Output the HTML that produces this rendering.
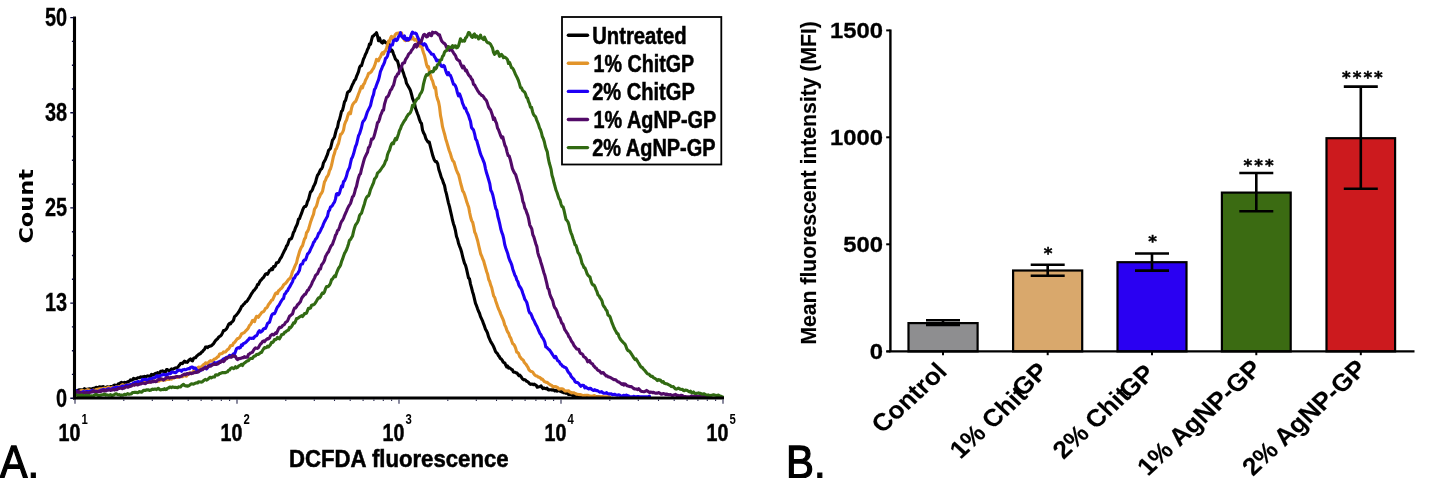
<!DOCTYPE html>
<html lang="en"><head><meta charset="utf-8"><title>DCFDA fluorescence / Mean fluorescent intensity</title>
<style>
html,body{margin:0;padding:0;background:#fff;}
body{width:1436px;height:478px;overflow:hidden;}
svg{display:block;filter:blur(0.45px);}
text{font-family:"Liberation Sans",sans-serif;font-weight:bold;fill:#000;}
.nar{font-size:24px;stroke:#000;stroke-width:0.55px;}
.tk{font-size:25.2px;stroke-width:0.3px;}
.b{font-size:23.5px;stroke:#000;stroke-width:0.3px;}
.wide{font-family:"DejaVu Sans","Liberation Sans",sans-serif;}
.lab{font-weight:normal;font-size:45.5px;stroke:#000;stroke-width:1.3px;}
</style></head><body>
<svg width="1436" height="478" viewBox="0 0 1436 478">
<rect width="1436" height="478" fill="#ffffff"/>
<g id="panelA">
<g fill="none" stroke-width="3.1" stroke-linejoin="round" stroke-linecap="round">
<polyline stroke="#000000" points="75.5,390.7 76.5,391.2 77.5,390.9 78.5,390.0 79.5,389.7 80.5,389.7 81.5,390.0 82.5,389.8 83.5,389.7 84.5,388.7 85.5,389.9 86.5,389.4 87.5,389.4 88.5,388.9 89.5,388.7 90.5,389.0 91.5,389.1 92.5,388.5 93.5,388.4 94.5,388.5 95.5,387.7 96.5,387.3 97.5,388.0 98.5,387.5 99.5,386.7 100.5,387.1 101.5,387.2 102.5,386.8 103.5,386.6 104.5,387.4 105.5,387.7 106.5,387.1 107.5,386.7 108.5,387.1 109.5,387.1 110.5,386.5 111.5,386.6 112.5,386.6 113.5,385.7 114.5,385.1 115.5,385.3 116.5,385.2 117.5,385.1 118.5,383.7 119.5,383.4 120.5,382.9 121.5,382.3 122.5,383.0 123.5,383.0 124.5,382.3 125.5,382.9 126.5,382.5 127.5,381.9 128.5,381.5 129.5,381.1 130.5,379.8 131.5,380.3 132.5,379.9 133.5,378.4 134.5,378.9 135.5,378.7 136.5,378.7 137.5,377.9 138.5,377.8 139.5,377.7 140.5,376.9 141.5,377.3 142.5,376.9 143.5,376.9 144.5,376.3 145.5,376.9 146.5,376.5 147.5,375.9 148.5,376.1 149.5,376.4 150.5,376.2 151.5,374.3 152.5,375.1 153.5,374.8 154.5,374.0 155.5,373.4 156.5,374.0 157.5,372.7 158.5,373.2 159.5,373.2 160.5,371.4 161.5,371.3 162.5,370.8 163.5,371.4 164.5,372.2 165.5,371.8 166.5,369.5 167.5,369.6 168.5,370.4 169.5,370.8 170.5,369.8 171.5,368.9 172.5,369.2 173.5,368.9 174.5,368.4 175.5,367.9 176.5,368.1 177.5,367.4 178.5,366.3 179.5,365.1 180.5,363.6 181.5,363.3 182.5,363.6 183.5,362.2 184.5,361.1 185.5,362.2 186.5,361.9 187.5,362.3 188.5,360.7 189.5,359.7 190.5,359.0 191.5,360.5 192.5,360.9 193.5,358.4 194.5,357.7 195.5,357.8 196.5,356.3 197.5,355.5 198.5,354.5 199.5,354.0 200.5,353.5 201.5,352.2 202.5,351.6 203.5,350.2 204.5,349.4 205.5,347.1 206.5,346.9 207.5,347.6 208.5,346.5 209.5,346.4 210.5,346.0 211.5,345.7 212.5,344.7 213.5,343.8 214.5,342.1 215.5,340.7 216.5,339.7 217.5,338.8 218.5,337.3 219.5,336.6 220.5,335.9 221.5,334.9 222.5,332.9 223.5,330.6 224.5,330.4 225.5,329.7 226.5,328.9 227.5,327.0 228.5,324.6 229.5,323.4 230.5,323.9 231.5,322.2 232.5,321.5 233.5,320.2 234.5,316.7 235.5,315.9 236.5,314.9 237.5,313.6 238.5,312.3 239.5,310.6 240.5,308.9 241.5,306.5 242.5,305.8 243.5,304.4 244.5,303.6 245.5,302.1 246.5,301.6 247.5,300.5 248.5,298.8 249.5,297.3 250.5,295.6 251.5,293.7 252.5,292.4 253.5,290.8 254.5,290.0 255.5,288.5 256.5,287.2 257.5,284.6 258.5,284.5 259.5,282.1 260.5,280.5 261.5,279.6 262.5,278.3 263.5,277.6 264.5,275.8 265.5,274.1 266.5,273.6 267.5,274.4 268.5,272.5 269.5,270.4 270.5,270.1 271.5,268.6 272.5,269.7 273.5,266.6 274.5,266.7 275.5,265.6 276.5,262.8 277.5,262.7 278.5,262.1 279.5,260.1 280.5,258.3 281.5,257.0 282.5,254.6 283.5,252.6 284.5,250.5 285.5,248.9 286.5,245.9 287.5,245.0 288.5,242.0 289.5,239.4 290.5,239.0 291.5,238.5 292.5,235.7 293.5,232.3 294.5,230.8 295.5,227.8 296.5,225.8 297.5,223.3 298.5,219.2 299.5,218.7 300.5,215.8 301.5,213.4 302.5,210.4 303.5,208.0 304.5,206.6 305.5,206.5 306.5,205.1 307.5,201.4 308.5,199.6 309.5,195.7 310.5,191.8 311.5,191.3 312.5,189.5 313.5,186.5 314.5,184.7 315.5,182.5 316.5,178.4 317.5,175.3 318.5,174.1 319.5,171.9 320.5,169.7 321.5,168.9 322.5,167.1 323.5,162.7 324.5,161.1 325.5,159.2 326.5,156.7 327.5,154.3 328.5,150.6 329.5,149.4 330.5,148.4 331.5,144.4 332.5,140.2 333.5,138.8 334.5,137.0 335.5,133.0 336.5,129.2 337.5,127.5 338.5,121.9 339.5,119.6 340.5,115.7 341.5,111.3 342.5,110.4 343.5,106.4 344.5,101.8 345.5,100.6 346.5,96.9 347.5,92.7 348.5,91.7 349.5,91.1 350.5,89.5 351.5,86.8 352.5,84.5 353.5,82.7 354.5,80.3 355.5,79.4 356.5,76.4 357.5,74.1 358.5,71.7 359.5,67.5 360.5,65.7 361.5,65.8 362.5,62.4 363.5,59.0 364.5,57.1 365.5,54.2 366.5,52.5 367.5,49.6 368.5,47.8 369.5,44.0 370.5,44.3 371.5,40.1 372.5,36.4 373.5,35.9 374.5,34.8 375.5,34.1 376.5,32.7 377.5,35.9 378.5,40.8 379.5,38.0 380.5,40.8 381.5,42.3 382.5,43.1 383.5,40.8 384.5,41.2 385.5,42.8 386.5,42.7 387.5,43.9 388.5,42.4 389.5,45.8 390.5,51.2 391.5,49.8 392.5,51.0 393.5,54.1 394.5,56.4 395.5,59.2 396.5,60.2 397.5,61.0 398.5,64.6 399.5,69.5 400.5,69.3 401.5,66.6 402.5,70.7 403.5,73.1 404.5,76.7 405.5,78.9 406.5,83.3 407.5,85.0 408.5,86.9 409.5,88.5 410.5,90.7 411.5,94.2 412.5,98.3 413.5,100.7 414.5,103.3 415.5,108.3 416.5,110.9 417.5,113.7 418.5,116.3 419.5,119.7 420.5,122.2 421.5,123.5 422.5,130.0 423.6,132.9 424.7,134.7 425.8,138.4 427.0,140.5 428.1,142.2 429.3,142.1 430.5,147.0 431.7,151.6 432.9,156.1 434.1,159.5 435.3,161.6 436.5,161.6 437.7,163.7 438.9,169.7 440.1,173.3 441.3,177.4 442.5,179.9 443.5,183.2 444.5,185.4 445.5,190.6 446.5,194.1 447.5,198.8 448.5,203.1 449.5,206.7 450.5,211.2 451.5,215.3 452.5,220.2 453.5,223.9 454.5,226.8 455.5,230.9 456.5,236.5 457.5,239.0 458.5,243.2 459.5,246.1 460.5,248.5 461.5,251.7 462.5,256.0 463.5,259.8 464.5,263.2 465.5,265.1 466.5,268.9 467.5,273.4 468.5,277.8 469.5,278.8 470.5,284.1 471.5,287.6 472.5,291.7 473.5,294.8 474.5,299.1 475.5,303.4 476.5,305.7 477.5,308.6 478.5,311.2 479.5,313.2 480.5,316.6 481.5,318.7 482.5,320.8 483.5,323.7 484.5,326.2 485.5,329.2 486.5,330.9 487.5,333.0 488.5,336.6 489.5,338.9 490.5,341.2 491.5,342.9 492.5,344.5 493.5,346.4 494.5,348.8 495.5,351.6 496.5,352.8 497.5,353.6 498.4,355.7 499.3,356.5 500.2,358.4 501.1,358.9 502.1,360.0 503.0,361.8 503.9,362.7 504.8,362.9 505.8,365.3 506.7,366.9 507.6,366.0 508.6,368.1 509.5,367.9 510.5,368.5 511.4,369.4 512.3,369.7 513.3,371.9 514.2,372.3 515.2,372.2 516.1,372.9 517.1,373.1 518.0,374.5 519.0,375.7 519.9,375.2 520.9,376.4 521.8,377.8 522.7,379.1 523.7,379.9 524.6,379.6 525.6,380.1 526.5,381.3 527.5,381.6 528.4,382.3 529.4,383.6 530.4,384.4 531.3,384.1 532.3,384.1 533.3,384.6 534.3,384.0 535.2,384.9 536.2,385.3 537.2,387.2 538.2,386.9 539.1,386.7 540.1,386.5 541.1,385.9 542.1,387.7 543.0,388.6 544.0,387.9 545.0,388.6 546.0,388.8 547.0,388.2 547.9,389.5 548.9,390.0 549.9,389.7 550.9,389.8 551.9,390.1 552.9,389.5 553.9,390.3 554.8,390.9 555.8,390.3 556.8,391.2 557.8,390.8 558.8,390.3 559.8,391.2 560.7,391.3 561.7,391.9 562.7,391.8 563.7,392.8 564.7,392.6 565.6,393.1 566.6,393.1 567.6,393.6 568.6,394.5 569.6,394.4 570.5,394.3 571.5,394.4 572.5,395.5 573.5,395.7 574.5,395.5 575.5,395.7 576.5,395.4 577.5,395.4 578.5,395.7 579.5,396.2 580.5,396.3 581.5,396.1 582.5,396.6 583.5,396.8 584.5,396.7 585.5,396.8 586.5,396.6 587.5,396.6 588.5,396.8 589.5,396.8 590.5,396.8 591.5,396.5 592.5,396.8 593.5,396.7 594.5,396.7 595.5,396.5 596.5,396.8 597.5,396.8 598.5,396.8 599.5,396.8"/>
<polyline stroke="#e2942a" points="75.5,391.6 76.5,392.0 77.5,391.9 78.5,391.9 79.5,391.9 80.5,390.7 81.5,390.5 82.5,390.3 83.5,390.8 84.5,391.3 85.5,390.8 86.5,390.6 87.5,389.7 88.5,390.2 89.5,390.1 90.5,391.1 91.5,390.8 92.5,390.6 93.5,390.0 94.5,390.2 95.5,390.0 96.5,389.4 97.5,389.2 98.5,389.2 99.5,388.8 100.5,388.7 101.5,388.7 102.5,388.6 103.5,388.9 104.5,388.0 105.5,388.7 106.5,388.1 107.5,387.7 108.5,387.3 109.5,387.7 110.5,387.7 111.5,387.7 112.5,387.3 113.5,387.5 114.5,388.2 115.5,387.3 116.5,386.7 117.5,387.1 118.5,386.6 119.5,386.6 120.5,386.4 121.5,385.6 122.5,384.6 123.5,385.2 124.5,385.5 125.5,385.1 126.5,385.3 127.5,385.3 128.5,384.6 129.5,385.2 130.5,385.4 131.5,384.9 132.5,384.8 133.5,384.7 134.5,384.9 135.5,383.7 136.5,383.3 137.5,383.3 138.5,382.3 139.5,381.7 140.5,382.0 141.5,382.7 142.5,382.5 143.5,381.3 144.5,380.9 145.5,381.6 146.5,381.8 147.5,381.8 148.5,382.2 149.5,382.4 150.5,381.8 151.5,381.6 152.5,380.6 153.5,380.4 154.5,381.1 155.5,381.4 156.5,381.4 157.5,381.2 158.5,381.2 159.5,380.8 160.5,379.4 161.5,379.7 162.5,380.3 163.5,380.2 164.5,379.2 165.5,380.1 166.5,379.4 167.5,379.3 168.5,379.5 169.5,379.4 170.5,378.3 171.5,379.1 172.5,378.6 173.5,377.9 174.5,377.7 175.5,376.6 176.5,377.1 177.5,377.5 178.5,376.9 179.5,376.8 180.5,376.7 181.5,376.7 182.5,376.8 183.5,376.0 184.5,375.5 185.5,375.8 186.5,376.2 187.5,374.6 188.5,374.1 189.5,372.8 190.5,373.7 191.5,373.2 192.5,372.7 193.5,371.2 194.5,370.0 195.5,370.4 196.5,369.7 197.5,368.0 198.5,367.0 199.5,367.4 200.5,367.1 201.5,367.8 202.5,365.6 203.5,364.7 204.5,364.2 205.5,362.9 206.5,363.0 207.5,363.9 208.5,362.5 209.5,361.4 210.5,360.6 211.5,361.1 212.5,360.8 213.5,359.9 214.5,358.9 215.5,358.7 216.5,358.0 217.5,356.9 218.5,356.5 219.5,354.2 220.5,353.8 221.5,353.8 222.5,353.2 223.5,351.9 224.5,352.1 225.5,351.9 226.5,350.7 227.5,349.6 228.5,349.1 229.5,347.7 230.5,345.8 231.5,345.5 232.5,345.4 233.5,343.1 234.5,342.5 235.5,341.3 236.5,339.7 237.5,338.6 238.5,338.4 239.5,337.6 240.5,336.2 241.5,333.9 242.5,333.4 243.5,333.0 244.5,332.4 245.5,331.1 246.5,330.1 247.5,329.2 248.5,327.6 249.5,325.4 250.5,324.6 251.5,322.8 252.5,320.4 253.5,320.2 254.5,321.7 255.5,318.5 256.5,316.3 257.5,316.7 258.5,317.3 259.5,315.4 260.5,314.3 261.5,312.7 262.5,311.9 263.5,311.7 264.5,310.3 265.5,308.4 266.5,307.9 267.5,306.7 268.5,304.5 269.5,303.4 270.5,302.0 271.5,300.2 272.5,300.0 273.5,297.9 274.5,295.7 275.5,293.5 276.5,292.8 277.5,293.5 278.5,290.8 279.5,290.2 280.5,288.8 281.5,288.3 282.5,287.1 283.5,285.0 284.5,284.1 285.5,283.4 286.5,282.3 287.5,280.8 288.5,279.4 289.5,278.7 290.5,277.7 291.5,274.9 292.5,271.5 293.5,269.7 294.5,267.1 295.5,264.9 296.5,263.0 297.5,258.5 298.5,255.2 299.5,251.7 300.5,249.2 301.5,246.9 302.5,245.9 303.5,242.2 304.5,238.9 305.5,237.8 306.5,232.8 307.5,231.5 308.5,229.3 309.5,225.9 310.5,222.3 311.5,219.4 312.5,216.7 313.5,214.4 314.5,209.1 315.5,207.7 316.5,205.9 317.5,202.3 318.5,198.4 319.5,197.0 320.5,194.4 321.5,193.3 322.5,191.3 323.5,186.7 324.5,181.9 325.5,180.3 326.5,177.4 327.5,176.3 328.5,174.4 329.5,170.5 330.5,168.9 331.5,165.4 332.5,160.9 333.5,156.1 334.5,153.4 335.5,149.4 336.5,148.6 337.5,145.5 338.5,143.5 339.5,139.2 340.5,134.2 341.5,134.0 342.5,132.5 343.5,130.2 344.5,124.8 345.5,121.9 346.5,120.3 347.5,116.7 348.5,113.6 349.5,112.4 350.5,113.7 351.5,108.4 352.5,105.0 353.5,103.4 354.5,102.2 355.5,101.7 356.5,99.5 357.5,96.9 358.5,94.0 359.5,91.7 360.5,88.6 361.5,86.3 362.5,87.9 363.5,84.3 364.5,83.3 365.5,80.3 366.5,78.4 367.5,76.3 368.5,73.4 369.5,73.1 370.5,72.5 371.5,71.4 372.5,69.6 373.5,68.3 374.5,65.9 375.5,63.1 376.5,59.4 377.5,59.7 378.5,60.8 379.5,58.2 380.5,56.9 381.5,54.1 382.5,52.6 383.5,54.0 384.5,51.5 385.5,50.9 386.5,48.3 387.5,44.9 388.5,41.2 389.5,41.6 390.5,38.3 391.5,36.3 392.5,39.0 393.5,37.8 394.5,36.2 395.5,34.3 396.5,33.4 397.5,33.4 398.5,33.0 399.5,33.5 400.5,34.5 401.5,32.8 402.5,37.3 403.5,37.8 404.5,40.1 405.5,40.6 406.5,38.7 407.5,40.4 408.5,40.5 409.5,38.7 410.5,38.7 411.5,39.0 412.5,36.8 413.5,38.8 414.5,40.2 415.5,39.6 416.5,38.9 417.5,41.4 418.5,45.1 419.5,46.1 420.5,45.1 421.5,45.9 422.5,49.5 423.5,52.8 424.5,55.5 425.5,59.6 426.5,64.4 427.5,67.1 428.5,66.6 429.5,72.5 430.5,75.4 431.5,78.9 432.5,80.7 433.5,84.3 434.5,87.9 435.5,87.3 436.5,95.3 437.5,99.1 438.5,101.6 439.5,106.7 440.5,115.4 441.5,120.3 442.5,126.7 443.5,130.4 444.6,134.2 445.8,139.2 446.9,142.6 448.1,146.8 449.2,150.5 450.4,153.6 451.5,157.5 452.7,160.6 453.9,161.8 455.1,165.9 456.3,169.7 457.4,172.5 458.6,174.7 459.7,179.1 460.7,183.5 461.7,187.0 462.7,191.0 463.7,192.2 464.7,195.0 465.7,198.2 466.7,201.8 467.7,204.6 468.7,207.2 469.7,212.8 470.7,217.5 471.7,220.8 472.7,222.4 473.7,226.8 474.7,232.1 475.7,234.2 476.7,237.6 477.7,241.0 478.7,245.5 479.7,249.6 480.7,254.0 481.7,256.1 482.7,258.9 483.7,261.0 484.7,264.8 485.7,268.2 486.7,271.7 487.7,274.6 488.7,279.5 489.7,281.5 490.7,285.1 491.7,287.5 492.7,292.0 493.7,296.1 494.7,297.4 495.7,300.9 496.7,303.7 497.7,306.7 498.7,309.4 499.7,311.4 500.7,314.1 501.7,316.5 502.7,318.7 503.7,321.2 504.7,325.0 505.7,326.7 506.7,329.8 507.7,332.0 508.7,333.4 509.7,336.6 510.7,337.9 511.7,341.0 512.7,343.7 513.7,344.3 514.7,345.9 515.7,348.4 516.7,352.1 517.7,352.5 518.7,353.6 519.6,356.4 520.6,357.6 521.5,358.9 522.4,359.5 523.3,360.2 524.2,362.3 525.2,363.5 526.1,364.4 527.0,365.9 528.0,367.4 528.9,369.6 529.9,370.7 530.8,371.4 531.8,371.5 532.7,372.0 533.7,373.6 534.6,374.8 535.6,375.7 536.6,375.9 537.5,376.4 538.5,377.2 539.4,377.2 540.4,378.0 541.4,379.2 542.3,379.1 543.3,380.3 544.3,381.5 545.2,381.9 546.2,382.4 547.2,382.3 548.1,383.2 549.1,383.9 550.1,384.8 551.1,385.2 552.0,385.7 553.0,386.9 554.0,386.7 555.0,386.5 555.9,386.7 556.9,387.3 557.9,387.7 558.9,389.1 559.9,389.0 560.8,388.8 561.8,388.8 562.8,389.0 563.8,389.8 564.8,390.9 565.7,391.1 566.7,390.9 567.7,391.0 568.7,390.7 569.7,391.9 570.7,392.2 571.6,393.0 572.6,392.7 573.6,392.7 574.6,393.2 575.6,393.4 576.6,394.3 577.6,394.3 578.5,394.5 579.5,394.6 580.5,394.6 581.5,395.0 582.5,395.2 583.5,395.9 584.5,395.4 585.5,395.4 586.5,395.2 587.5,395.3 588.5,395.6 589.5,396.3 590.5,396.1 591.5,396.4 592.5,396.0 593.5,395.8 594.5,395.5 595.5,396.7 596.5,396.8 597.5,396.7 598.5,396.8 599.5,396.8 600.5,396.6 601.5,396.8 602.5,396.5 603.5,396.8 604.5,396.8 605.5,396.8 606.5,396.7 607.5,396.8 608.5,396.7 609.5,396.8"/>
<polyline stroke="#1f00f5" points="75.5,392.5 76.5,390.8 77.5,392.1 78.5,392.2 79.5,392.6 80.5,392.4 81.5,392.8 82.5,392.0 83.5,391.6 84.5,392.0 85.5,391.9 86.5,391.4 87.5,391.4 88.5,391.8 89.5,391.7 90.5,391.1 91.5,390.8 92.5,390.4 93.5,391.6 94.5,391.1 95.5,391.5 96.5,391.2 97.5,391.7 98.5,391.5 99.5,390.8 100.5,390.9 101.5,390.0 102.5,390.4 103.5,389.4 104.5,389.9 105.5,390.3 106.5,389.7 107.5,389.2 108.5,388.8 109.5,389.0 110.5,389.6 111.5,389.3 112.5,388.5 113.5,387.8 114.5,388.3 115.5,387.3 116.5,387.3 117.5,387.2 118.5,387.6 119.5,387.3 120.5,387.1 121.5,386.6 122.5,386.0 123.5,386.3 124.5,386.5 125.5,385.6 126.5,385.5 127.5,385.0 128.5,385.2 129.5,384.9 130.5,384.6 131.5,384.2 132.5,384.3 133.5,383.1 134.5,382.6 135.5,382.4 136.5,382.6 137.5,381.8 138.5,381.5 139.5,382.1 140.5,382.2 141.5,381.3 142.5,379.4 143.5,379.7 144.5,379.5 145.5,379.3 146.5,379.7 147.5,380.6 148.5,379.3 149.5,378.8 150.5,379.2 151.5,378.7 152.5,378.3 153.5,377.7 154.5,377.7 155.5,377.5 156.5,375.9 157.5,375.8 158.5,377.1 159.5,376.8 160.5,375.6 161.5,374.9 162.5,374.9 163.5,374.2 164.5,374.6 165.5,375.4 166.5,374.6 167.5,374.5 168.5,373.6 169.5,373.7 170.5,373.7 171.5,372.1 172.5,372.1 173.5,372.2 174.5,372.4 175.5,372.8 176.5,372.0 177.5,370.4 178.5,370.6 179.5,370.1 180.5,370.2 181.5,371.3 182.5,369.8 183.5,369.8 184.5,369.3 185.5,369.8 186.5,369.4 187.5,368.9 188.5,368.6 189.5,368.8 190.5,367.5 191.5,367.1 192.5,367.1 193.5,368.3 194.5,367.9 195.5,368.1 196.5,369.7 197.5,371.9 198.5,370.9 199.5,370.9 200.5,370.6 201.5,369.8 202.5,369.0 203.5,368.7 204.5,368.0 205.5,367.0 206.5,368.9 207.5,367.9 208.5,366.5 209.5,365.6 210.5,364.8 211.5,365.2 212.5,364.3 213.5,363.9 214.5,362.6 215.5,363.3 216.5,363.8 217.5,362.3 218.5,362.1 219.5,361.4 220.5,361.5 221.5,361.0 222.5,359.8 223.5,358.9 224.5,358.8 225.5,358.1 226.5,357.3 227.5,357.3 228.5,356.7 229.5,355.4 230.5,355.5 231.5,356.7 232.5,355.0 233.5,353.8 234.5,354.2 235.5,351.4 236.5,348.7 237.5,348.0 238.5,347.6 239.5,348.1 240.5,347.4 241.5,344.8 242.5,345.3 243.5,343.4 244.5,343.2 245.5,342.6 246.5,341.6 247.5,340.5 248.5,339.6 249.5,338.1 250.5,338.3 251.5,338.4 252.5,338.1 253.5,338.4 254.5,336.9 255.5,335.9 256.5,335.7 257.5,333.9 258.5,331.7 259.5,330.6 260.5,332.2 261.5,331.5 262.5,330.6 263.5,328.9 264.5,328.5 265.5,328.5 266.5,326.1 267.5,323.5 268.5,322.7 269.5,322.3 270.5,318.9 271.5,315.7 272.5,314.2 273.5,313.6 274.5,313.7 275.5,311.6 276.5,309.0 277.5,306.9 278.5,306.0 279.5,304.4 280.5,302.4 281.5,300.8 282.5,299.2 283.5,298.7 284.5,294.3 285.5,293.6 286.5,291.5 287.5,290.8 288.5,288.6 289.5,287.1 290.5,285.4 291.5,283.5 292.5,281.8 293.5,278.4 294.5,278.0 295.5,275.8 296.5,274.5 297.5,273.9 298.5,272.1 299.5,270.2 300.5,265.0 301.5,264.0 302.5,263.9 303.5,260.8 304.5,259.9 305.5,259.9 306.5,257.4 307.5,254.0 308.5,253.2 309.5,251.8 310.5,249.4 311.5,247.4 312.5,245.4 313.5,242.4 314.5,241.5 315.5,239.2 316.5,238.4 317.5,236.5 318.5,233.5 319.5,232.7 320.5,230.6 321.5,228.3 322.5,226.7 323.5,223.8 324.5,221.6 325.5,219.9 326.5,218.0 327.5,216.3 328.5,211.3 329.5,210.2 330.5,207.1 331.5,206.4 332.5,205.4 333.5,203.4 334.5,202.1 335.5,198.9 336.5,193.9 337.5,193.5 338.5,194.8 339.5,193.2 340.5,189.4 341.5,186.2 342.5,186.9 343.5,181.6 344.5,180.9 345.5,178.7 346.5,176.0 347.5,171.8 348.5,169.6 349.5,167.8 350.5,163.0 351.5,158.7 352.5,156.9 353.5,154.1 354.5,150.4 355.5,146.5 356.5,144.3 357.5,140.2 358.5,135.8 359.5,133.9 360.5,130.8 361.5,127.5 362.5,122.7 363.5,120.8 364.5,119.8 365.5,117.8 366.5,114.5 367.5,111.6 368.5,109.6 369.5,107.6 370.5,105.6 371.5,101.2 372.5,97.1 373.5,94.6 374.5,89.4 375.5,88.1 376.5,85.0 377.5,82.4 378.5,79.9 379.5,76.0 380.5,71.3 381.5,69.2 382.5,66.4 383.5,64.7 384.5,62.3 385.5,58.5 386.5,57.7 387.5,55.9 388.5,51.9 389.5,49.9 390.5,45.6 391.5,44.9 392.5,44.9 393.5,40.7 394.5,40.1 395.5,39.2 396.5,40.6 397.5,39.6 398.5,36.6 399.5,35.6 400.5,32.7 401.5,36.2 402.5,37.1 403.5,38.3 404.5,35.9 405.5,39.7 406.5,40.2 407.5,38.3 408.5,39.8 409.5,39.1 410.5,37.3 411.5,33.9 412.5,32.0 413.5,33.1 414.5,33.2 415.5,33.1 416.5,34.0 417.5,36.7 418.5,38.8 419.5,41.7 420.5,40.9 421.5,43.6 422.5,43.9 423.5,45.1 424.5,43.7 425.5,44.4 426.5,46.6 427.5,49.3 428.5,50.0 429.5,51.5 430.5,52.5 431.5,54.2 432.5,54.3 433.5,54.6 434.5,56.8 435.5,58.1 436.5,60.8 437.5,60.0 438.5,60.9 439.5,62.1 440.5,65.0 441.5,66.2 442.5,66.6 443.5,65.4 444.5,66.4 445.5,70.1 446.5,72.9 447.5,74.6 448.5,72.7 449.5,75.1 450.5,75.5 451.5,78.0 452.5,81.2 453.5,84.3 454.5,84.6 455.5,86.0 456.5,88.8 457.5,93.1 458.5,95.9 459.5,93.8 460.5,96.4 461.5,99.2 462.5,103.1 463.5,105.3 464.5,108.2 465.5,108.1 466.5,111.1 467.5,113.2 468.5,115.2 469.5,118.6 470.5,121.3 471.5,127.5 472.5,128.9 473.5,129.9 474.6,133.8 475.7,139.2 476.8,140.7 477.9,144.8 479.0,148.5 480.0,152.4 481.1,155.4 482.2,157.8 483.3,160.6 484.4,163.4 485.5,168.8 486.6,173.1 487.7,176.5 488.8,180.2 489.8,183.7 490.8,190.3 491.8,192.1 492.8,195.0 493.8,199.5 494.8,204.3 495.8,208.6 496.8,210.2 497.8,216.3 498.8,219.8 499.8,224.0 500.8,229.0 501.8,232.4 502.8,234.8 503.8,239.2 504.8,244.9 505.8,248.3 506.8,251.1 507.8,253.8 508.8,257.8 509.8,260.5 510.8,262.5 511.8,265.1 512.8,269.2 513.8,272.1 514.8,275.1 515.8,276.6 516.8,280.0 517.8,281.5 518.8,284.9 519.8,286.7 520.8,288.0 521.8,290.1 522.8,293.2 523.8,296.0 524.8,299.3 525.8,300.6 526.8,302.5 527.8,306.4 528.8,310.8 529.8,313.0 530.8,313.6 531.8,315.9 532.8,318.6 533.8,320.2 534.8,322.5 535.8,324.6 536.8,326.2 537.8,328.5 538.8,330.9 539.8,333.2 540.8,334.4 541.8,336.8 542.8,338.1 543.8,339.8 544.8,342.1 545.8,346.9 546.8,347.4 547.8,348.5 548.8,349.5 549.8,350.3 550.8,351.8 551.8,353.4 552.8,355.0 553.8,356.5 554.7,357.7 555.7,356.4 556.7,358.6 557.6,360.6 558.6,361.1 559.6,362.3 560.5,364.2 561.5,364.7 562.5,366.3 563.4,366.4 564.4,367.2 565.4,367.4 566.3,368.1 567.3,370.3 568.2,372.0 569.2,373.1 570.2,374.1 571.1,376.4 572.1,377.5 573.0,378.5 574.0,379.4 575.0,381.6 575.9,382.4 576.9,382.4 577.9,382.8 578.9,383.7 579.9,385.3 580.8,386.3 581.8,385.4 582.8,385.3 583.8,385.5 584.8,387.8 585.8,386.9 586.7,387.9 587.7,388.4 588.7,389.0 589.7,388.2 590.7,388.2 591.7,389.4 592.7,390.1 593.7,390.5 594.7,389.6 595.6,390.3 596.6,390.7 597.6,390.6 598.6,391.4 599.6,392.1 600.6,392.0 601.6,391.6 602.6,392.6 603.6,393.2 604.6,393.3 605.6,393.3 606.6,392.7 607.6,393.6 608.5,393.9 609.5,393.7 610.5,393.9 611.5,393.9 612.5,394.8 613.5,394.4 614.5,394.2 615.5,394.8 616.5,395.0 617.5,395.3 618.5,394.8 619.5,395.0 620.5,395.7 621.5,396.6 622.5,395.9 623.5,395.2 624.5,395.7 625.5,395.4 626.5,395.1 627.5,395.6 628.5,395.9 629.5,396.4 630.5,396.8 631.5,396.8 632.5,396.8 633.5,396.3 634.5,396.5 635.5,396.7 636.5,396.8 637.5,396.5 638.5,396.6 639.5,396.8 640.5,396.8 641.5,396.7 642.5,396.8 643.5,396.8 644.5,396.8 645.5,396.8 646.5,396.8 647.5,396.8 648.5,396.6 649.5,396.3"/>
<polyline stroke="#520a68" points="75.5,393.2 76.5,392.4 77.5,391.8 78.5,391.4 79.5,392.5 80.5,393.4 81.5,393.0 82.5,393.1 83.5,393.1 84.5,392.6 85.5,393.6 86.5,392.4 87.5,392.8 88.5,393.6 89.5,392.5 90.5,392.2 91.5,391.9 92.5,391.9 93.5,390.9 94.5,391.5 95.5,392.5 96.5,391.9 97.5,391.5 98.5,391.6 99.5,391.6 100.5,391.4 101.5,391.2 102.5,390.3 103.5,390.9 104.5,390.6 105.5,391.0 106.5,390.5 107.5,390.0 108.5,390.1 109.5,389.8 110.5,390.4 111.5,390.1 112.5,390.0 113.5,389.3 114.5,390.1 115.5,389.4 116.5,389.8 117.5,389.3 118.5,388.2 119.5,388.4 120.5,388.1 121.5,388.3 122.5,388.7 123.5,388.2 124.5,387.9 125.5,386.7 126.5,387.0 127.5,387.1 128.5,387.1 129.5,386.2 130.5,386.4 131.5,386.0 132.5,384.8 133.5,384.8 134.5,385.2 135.5,384.3 136.5,384.1 137.5,385.0 138.5,384.6 139.5,384.1 140.5,384.0 141.5,383.5 142.5,383.2 143.5,383.1 144.5,383.5 145.5,383.7 146.5,382.7 147.5,382.5 148.5,382.1 149.5,381.5 150.5,382.1 151.5,382.2 152.5,381.3 153.5,381.7 154.5,381.1 155.5,381.7 156.5,381.5 157.5,380.3 158.5,379.2 159.5,379.6 160.5,379.0 161.5,378.8 162.5,379.4 163.5,380.1 164.5,379.2 165.5,378.6 166.5,377.6 167.5,377.8 168.5,377.5 169.5,378.1 170.5,377.6 171.5,377.6 172.5,377.4 173.5,377.3 174.5,377.6 175.5,377.2 176.5,376.5 177.5,376.5 178.5,376.7 179.5,376.9 180.5,376.2 181.5,376.3 182.5,375.1 183.5,374.7 184.5,374.1 185.5,374.8 186.5,373.8 187.5,373.5 188.5,374.2 189.5,373.4 190.5,373.1 191.5,373.7 192.5,373.1 193.5,373.1 194.5,372.3 195.5,372.6 196.5,372.4 197.5,371.7 198.5,371.9 199.5,370.4 200.5,369.8 201.5,369.7 202.5,369.7 203.5,368.5 204.5,367.9 205.5,368.1 206.5,368.2 207.5,366.8 208.5,365.8 209.5,366.2 210.5,366.3 211.5,365.4 212.5,365.1 213.5,363.8 214.5,364.4 215.5,364.5 216.5,364.4 217.5,364.0 218.5,363.6 219.5,362.4 220.5,362.5 221.5,360.9 222.5,361.0 223.5,361.6 224.5,360.6 225.5,358.5 226.5,358.9 227.5,357.9 228.5,357.1 229.5,357.2 230.5,357.1 231.5,357.3 232.5,355.6 233.5,356.0 234.5,356.5 235.5,356.3 236.5,358.7 237.5,359.6 238.5,358.5 239.5,358.7 240.5,358.3 241.5,358.2 242.5,357.6 243.5,357.8 244.5,356.6 245.5,357.4 246.5,357.0 247.5,357.1 248.5,354.4 249.5,354.0 250.5,352.9 251.5,352.7 252.5,352.2 253.5,350.3 254.5,348.8 255.5,347.8 256.5,348.3 257.5,348.4 258.5,347.5 259.5,345.6 260.5,344.0 261.5,343.2 262.5,341.6 263.5,340.9 264.5,341.7 265.5,340.3 266.5,339.6 267.5,338.6 268.5,338.9 269.5,338.1 270.5,335.7 271.5,334.8 272.5,334.2 273.5,334.9 274.5,334.2 275.5,332.8 276.5,333.4 277.5,331.1 278.5,328.8 279.5,327.3 280.5,327.7 281.5,327.2 282.5,325.6 283.5,325.1 284.5,324.4 285.5,322.4 286.5,321.7 287.5,321.0 288.5,318.6 289.5,316.3 290.5,315.5 291.5,314.6 292.5,314.0 293.5,310.5 294.5,308.0 295.5,307.9 296.5,306.7 297.5,304.8 298.5,304.0 299.5,302.7 300.5,301.6 301.5,298.6 302.5,296.9 303.5,295.9 304.5,294.5 305.5,294.2 306.5,292.3 307.5,290.4 308.5,289.8 309.5,287.7 310.5,286.3 311.5,284.4 312.5,281.8 313.5,280.0 314.5,278.1 315.5,275.6 316.5,274.4 317.5,273.7 318.5,271.3 319.5,268.8 320.5,269.0 321.5,264.9 322.5,263.7 323.5,262.3 324.5,260.3 325.5,256.5 326.5,254.8 327.5,252.9 328.5,251.9 329.5,249.3 330.5,247.1 331.5,245.3 332.5,244.3 333.5,241.3 334.5,238.7 335.5,235.2 336.5,233.8 337.5,230.6 338.5,230.0 339.5,227.3 340.5,223.9 341.5,221.5 342.5,220.3 343.5,218.4 344.5,215.6 345.5,213.4 346.5,211.1 347.5,208.6 348.5,206.6 349.5,205.0 350.5,203.5 351.5,200.3 352.5,196.7 353.5,196.0 354.5,193.0 355.5,188.8 356.5,186.3 357.5,181.7 358.5,177.7 359.5,174.8 360.5,173.7 361.5,169.2 362.5,165.6 363.5,161.9 364.5,158.3 365.5,156.2 366.5,154.1 367.5,152.3 368.5,147.5 369.5,146.9 370.5,143.6 371.5,139.0 372.5,139.3 373.5,138.1 374.5,134.8 375.5,131.0 376.5,127.4 377.5,122.6 378.5,122.0 379.5,119.3 380.5,115.4 381.5,113.4 382.5,110.6 383.5,110.3 384.5,104.3 385.5,100.9 386.5,97.4 387.5,96.8 388.5,95.5 389.5,92.9 390.5,90.1 391.5,89.3 392.5,86.9 393.5,85.3 394.5,81.3 395.5,77.1 396.5,76.4 397.5,74.1 398.5,73.8 399.5,70.7 400.5,68.8 401.5,66.9 402.5,63.5 403.5,63.0 404.5,62.7 405.5,59.6 406.5,58.1 407.5,56.7 408.5,54.3 409.5,53.2 410.5,52.5 411.5,50.4 412.5,49.3 413.5,47.7 414.5,45.1 415.5,44.3 416.5,47.1 417.5,45.7 418.5,42.8 419.5,42.8 420.5,42.3 421.5,40.8 422.5,37.7 423.5,35.0 424.5,34.3 425.5,35.2 426.5,36.9 427.5,36.6 428.5,33.9 429.5,33.4 430.5,35.3 431.5,35.7 432.5,32.2 433.5,33.0 434.5,32.8 435.5,32.3 436.5,32.8 437.5,33.8 438.5,35.0 439.5,34.8 440.5,37.9 441.5,40.6 442.5,42.0 443.5,43.0 444.5,43.5 445.5,44.8 446.5,47.6 447.5,46.6 448.5,48.0 449.5,50.3 450.5,49.9 451.5,49.3 452.5,51.1 453.5,52.8 454.5,54.3 455.5,55.6 456.5,58.5 457.5,59.7 458.5,60.3 459.5,60.8 460.5,63.7 461.5,65.7 462.5,67.8 463.5,66.1 464.5,67.9 465.5,70.8 466.5,70.1 467.5,72.8 468.5,74.8 469.5,76.0 470.5,76.8 471.5,79.1 472.5,80.0 473.5,84.3 474.5,84.8 475.5,86.8 476.5,88.5 477.5,90.3 478.5,91.8 479.5,93.4 480.5,94.1 481.5,95.4 482.5,95.5 483.5,96.7 484.5,98.4 485.5,99.6 486.5,100.8 487.5,103.6 488.5,106.9 489.5,108.6 490.5,109.7 491.5,112.5 492.5,115.5 493.5,119.5 494.5,118.0 495.5,121.2 496.5,123.1 497.5,128.0 498.5,129.8 499.6,132.8 500.6,135.5 501.7,137.8 502.8,136.9 503.8,141.1 504.9,145.4 506.0,147.3 507.1,152.1 508.1,155.6 509.2,156.0 510.3,159.6 511.4,164.2 512.4,168.6 513.5,171.0 514.6,173.2 515.7,174.7 516.8,178.5 517.8,181.9 518.8,184.8 519.8,188.9 520.8,191.8 521.8,195.6 522.8,201.3 523.8,203.5 524.8,208.1 525.8,209.8 526.8,212.9 527.8,215.4 528.8,219.7 529.8,225.1 530.8,227.0 531.8,228.9 532.8,234.8 533.8,236.8 534.8,240.3 535.8,243.8 536.8,246.3 537.8,252.6 538.8,256.2 539.8,258.4 540.8,262.2 541.8,265.3 542.8,268.7 543.8,272.4 544.8,275.2 545.8,279.4 546.8,283.4 547.8,288.2 548.8,289.3 549.8,293.9 550.8,296.7 551.8,298.7 552.8,301.0 553.8,305.4 554.8,307.8 555.8,308.9 556.8,311.0 557.8,313.9 558.8,317.1 559.8,317.6 560.8,320.4 561.8,323.2 562.8,323.8 563.8,326.7 564.8,329.7 565.8,330.9 566.8,332.7 567.8,333.9 568.8,336.7 569.8,337.7 570.8,339.8 571.8,341.8 572.8,342.9 573.8,345.2 574.8,346.5 575.8,347.7 576.8,349.0 577.8,349.2 578.8,349.2 579.8,352.2 580.8,353.5 581.8,353.7 582.8,354.6 583.8,356.8 584.7,357.1 585.7,358.0 586.7,359.4 587.6,361.8 588.6,360.9 589.6,360.6 590.5,362.7 591.5,363.3 592.5,363.8 593.4,365.6 594.4,366.5 595.4,367.9 596.4,368.3 597.3,369.8 598.3,370.5 599.3,370.7 600.3,371.9 601.2,373.2 602.2,373.0 603.2,372.5 604.2,373.8 605.2,374.8 606.1,375.9 607.1,375.9 608.1,376.9 609.1,377.0 610.1,377.4 611.0,377.9 612.0,378.5 613.0,379.1 614.0,379.7 615.0,379.6 616.0,380.0 616.9,381.0 617.9,381.7 618.9,382.0 619.9,382.8 620.9,383.5 621.9,384.4 622.9,383.7 623.8,385.1 624.8,383.8 625.8,384.3 626.8,385.7 627.8,385.8 628.8,386.3 629.8,386.6 630.7,386.5 631.7,386.8 632.7,387.7 633.7,388.5 634.7,389.0 635.7,389.0 636.7,389.1 637.7,389.7 638.7,388.7 639.7,389.8 640.7,391.0 641.6,391.4 642.6,391.5 643.6,391.7 644.6,391.7 645.6,391.2 646.6,390.4 647.6,391.2 648.6,391.8 649.6,392.7 650.6,392.1 651.6,392.2 652.6,392.7 653.6,392.3 654.6,392.9 655.6,393.3 656.6,393.1 657.5,393.1 658.5,392.6 659.5,392.9 660.5,393.7 661.5,394.3 662.5,393.8 663.5,393.6 664.5,393.9 665.5,394.5 666.5,394.0 667.5,394.5 668.5,394.6 669.5,394.8 670.5,394.6 671.5,395.1 672.5,395.7 673.5,395.2 674.5,394.8 675.5,394.3 676.5,395.4 677.5,395.3 678.5,395.7 679.5,395.7 680.5,395.4 681.5,395.4 682.5,395.5 683.5,396.7 684.5,396.6 685.5,396.6 686.5,396.8 687.5,396.8 688.5,396.8 689.5,396.8 690.5,396.8 691.5,395.9 692.5,396.3 693.5,396.3 694.5,396.3 695.5,395.5 696.5,396.0 697.5,396.8 698.5,396.3 699.5,396.8 700.5,396.5 701.5,396.5 702.5,396.2 703.5,396.3 704.5,396.3 705.5,396.8 706.5,396.3 707.5,396.8 708.5,396.7 709.5,396.8"/>
<polyline stroke="#316a12" points="75.5,394.7 76.5,394.9 77.5,395.4 78.5,395.3 79.5,395.6 80.5,395.7 81.5,394.9 82.5,395.6 83.5,395.4 84.5,396.3 85.5,395.8 86.5,395.2 87.5,395.4 88.5,395.5 89.5,395.6 90.5,396.0 91.5,395.8 92.5,396.1 93.5,395.7 94.5,395.1 95.5,394.5 96.5,394.5 97.5,395.2 98.5,395.7 99.5,395.8 100.5,395.1 101.5,395.1 102.5,394.8 103.5,394.7 104.5,394.2 105.5,395.1 106.5,394.8 107.5,395.0 108.5,395.2 109.5,395.1 110.5,394.6 111.5,395.5 112.5,395.4 113.5,395.1 114.5,394.5 115.5,393.9 116.5,393.9 117.5,394.5 118.5,394.7 119.5,394.6 120.5,395.4 121.5,395.0 122.5,395.2 123.5,394.9 124.5,394.2 125.5,394.7 126.5,394.4 127.5,393.6 128.5,394.2 129.5,394.3 130.5,394.1 131.5,393.7 132.5,392.5 133.5,392.5 134.5,392.4 135.5,392.4 136.5,392.4 137.5,392.7 138.5,392.3 139.5,391.5 140.5,392.1 141.5,392.3 142.5,391.4 143.5,390.3 144.5,390.4 145.5,390.4 146.5,389.7 147.5,390.0 148.5,389.7 149.5,390.4 150.5,390.3 151.5,389.7 152.5,389.1 153.5,389.5 154.5,389.1 155.5,389.0 156.5,389.6 157.5,388.7 158.5,388.3 159.5,389.3 160.5,389.9 161.5,389.8 162.5,389.4 163.5,389.6 164.5,388.7 165.5,389.6 166.5,389.4 167.5,388.2 168.5,388.0 169.5,387.1 170.5,387.1 171.5,387.6 172.5,386.9 173.5,387.3 174.5,387.4 175.5,387.2 176.5,387.5 177.5,387.8 178.5,386.9 179.5,387.0 180.5,387.0 181.5,385.8 182.5,385.1 183.5,384.3 184.5,385.5 185.5,385.9 186.5,385.7 187.5,386.3 188.5,385.9 189.5,385.2 190.5,384.4 191.5,383.7 192.5,384.0 193.5,384.1 194.5,383.6 195.5,383.1 196.5,382.9 197.5,383.0 198.5,381.7 199.5,381.9 200.5,382.0 201.5,382.1 202.5,381.7 203.5,380.7 204.5,379.9 205.5,379.4 206.5,380.1 207.5,379.6 208.5,378.8 209.5,377.7 210.5,377.2 211.5,377.9 212.5,377.1 213.5,377.0 214.5,377.0 215.5,375.0 216.5,374.7 217.5,375.1 218.5,374.8 219.5,373.6 220.5,373.5 221.5,372.9 222.5,372.6 223.5,372.8 224.5,372.5 225.5,372.6 226.5,372.1 227.5,371.8 228.5,370.3 229.5,370.1 230.5,368.6 231.5,367.9 232.5,367.8 233.5,368.7 234.5,368.0 235.5,366.7 236.5,367.9 237.5,367.4 238.5,366.2 239.5,365.6 240.5,365.1 241.5,364.3 242.5,365.5 243.5,363.7 244.5,363.0 245.5,362.3 246.5,361.4 247.5,360.8 248.5,360.7 249.5,359.2 250.5,358.5 251.5,358.3 252.5,358.4 253.5,356.8 254.5,356.0 255.5,355.9 256.5,354.5 257.5,354.3 258.5,354.5 259.5,353.5 260.5,352.6 261.5,352.5 262.5,350.5 263.5,349.0 264.5,347.6 265.5,347.9 266.5,347.5 267.5,346.2 268.5,346.9 269.5,345.8 270.5,344.5 271.5,342.4 272.5,342.5 273.5,341.6 274.5,339.5 275.5,339.8 276.5,339.0 277.5,337.4 278.5,338.3 279.5,338.8 280.5,337.0 281.5,334.8 282.5,334.4 283.5,334.3 284.5,332.4 285.5,332.0 286.5,331.1 287.5,330.4 288.5,330.1 289.5,327.4 290.5,327.9 291.5,326.6 292.5,324.9 293.5,322.9 294.5,323.1 295.5,321.4 296.5,318.5 297.5,318.4 298.5,317.8 299.5,317.0 300.5,316.4 301.5,315.7 302.5,316.5 303.5,315.3 304.5,313.5 305.5,313.7 306.5,313.2 307.5,310.7 308.5,308.2 309.5,308.4 310.5,308.1 311.5,305.4 312.5,304.9 313.5,304.9 314.5,304.1 315.5,302.7 316.5,301.0 317.5,299.2 318.5,297.9 319.5,298.0 320.5,296.8 321.5,294.3 322.5,292.9 323.5,293.3 324.5,291.8 325.5,288.7 326.5,286.6 327.5,286.7 328.5,286.3 329.5,285.1 330.5,283.1 331.5,279.7 332.5,279.1 333.5,277.3 334.5,275.9 335.5,276.7 336.5,273.1 337.5,270.7 338.5,268.3 339.5,267.1 340.5,265.2 341.5,261.7 342.5,259.2 343.5,256.3 344.5,253.4 345.5,251.7 346.5,249.8 347.5,247.0 348.5,243.9 349.5,240.2 350.5,239.5 351.5,237.7 352.5,236.2 353.5,231.7 354.5,227.9 355.5,225.0 356.5,223.8 357.5,222.2 358.5,219.8 359.5,215.6 360.5,214.1 361.5,213.2 362.5,209.9 363.5,206.7 364.5,203.7 365.5,199.9 366.5,197.5 367.5,196.3 368.5,195.9 369.5,193.4 370.5,189.6 371.5,187.4 372.5,185.0 373.5,182.9 374.5,179.1 375.5,177.9 376.5,176.6 377.5,172.9 378.5,172.2 379.5,171.3 380.5,170.0 381.5,168.5 382.5,167.0 383.5,165.7 384.5,163.9 385.5,161.0 386.5,159.7 387.5,154.7 388.5,152.0 389.5,150.2 390.5,146.8 391.5,144.0 392.5,142.9 393.5,143.7 394.5,140.4 395.5,138.3 396.5,139.8 397.5,137.0 398.5,134.0 399.5,130.5 400.5,128.7 401.5,125.7 402.5,124.1 403.5,122.3 404.5,120.6 405.5,119.5 406.5,117.1 407.5,115.8 408.5,114.1 409.5,113.7 410.5,112.3 411.5,109.7 412.5,105.3 413.5,106.6 414.5,103.4 415.5,101.3 416.5,99.8 417.5,98.5 418.5,98.2 419.5,95.4 420.5,93.6 421.5,92.3 422.5,89.7 423.5,84.1 424.5,80.2 425.5,76.6 426.5,74.6 427.5,75.2 428.5,74.0 429.5,72.7 430.5,72.1 431.5,71.5 432.5,71.9 433.5,71.2 434.5,67.8 435.5,69.0 436.5,67.7 437.5,64.6 438.5,64.2 439.5,62.3 440.5,59.8 441.5,59.7 442.5,56.4 443.5,55.4 444.5,52.3 445.5,51.0 446.5,50.8 447.5,48.8 448.5,46.7 449.5,47.1 450.5,47.5 451.5,47.4 452.5,45.7 453.5,47.4 454.5,46.2 455.5,45.8 456.5,47.8 457.5,47.5 458.5,45.9 459.5,42.3 460.5,38.8 461.5,40.8 462.5,41.2 463.5,40.5 464.5,41.2 465.5,38.0 466.5,37.3 467.5,35.0 468.5,32.5 469.5,33.0 470.5,35.0 471.5,36.7 472.5,37.4 473.5,34.9 474.5,34.0 475.5,37.2 476.5,35.8 477.5,36.6 478.5,39.0 479.5,37.3 480.5,35.1 481.5,38.2 482.5,38.3 483.5,39.6 484.5,37.2 485.5,39.5 486.5,41.4 487.5,42.6 488.5,42.7 489.5,43.3 490.5,44.1 491.5,46.1 492.5,48.0 493.5,52.3 494.5,54.3 495.5,53.5 496.5,51.7 497.5,51.3 498.5,53.2 499.5,56.3 500.5,55.3 501.5,54.3 502.5,55.7 503.5,57.7 504.5,57.0 505.5,57.6 506.5,58.4 507.5,59.7 508.5,63.5 509.5,62.4 510.5,64.9 511.5,67.7 512.5,68.2 513.5,69.6 514.5,72.0 515.5,74.4 516.5,76.4 517.5,78.3 518.5,80.7 519.5,83.9 520.5,87.6 521.5,87.7 522.5,90.3 523.5,91.2 524.5,91.9 525.5,93.9 526.5,97.2 527.5,98.0 528.5,101.5 529.5,103.6 530.5,107.3 531.5,107.2 532.5,111.4 533.5,114.4 534.5,115.8 535.5,116.6 536.5,119.6 537.5,122.0 538.5,124.4 539.5,127.9 540.5,129.8 541.5,133.0 542.4,136.8 543.4,138.8 544.4,142.0 545.3,146.3 546.3,149.4 547.3,151.9 548.2,157.9 549.2,162.8 550.1,165.8 551.1,169.4 552.0,175.3 553.0,178.4 554.0,182.8 555.0,186.3 556.0,190.2 557.0,192.5 558.0,195.7 559.0,198.7 560.0,200.2 561.0,204.2 562.0,206.8 563.0,206.8 564.0,210.2 565.0,214.9 566.0,219.4 567.0,220.5 568.0,222.0 569.0,225.0 570.0,229.8 571.0,232.8 572.0,235.1 573.0,238.5 574.0,241.2 575.0,244.7 576.0,245.4 577.0,248.7 578.0,252.6 579.0,253.8 580.0,255.8 581.0,259.2 582.0,263.4 583.0,265.0 584.0,267.6 585.0,268.0 586.0,270.6 587.0,273.6 588.0,275.3 589.0,276.2 590.0,277.0 591.0,281.1 592.0,283.7 593.0,285.0 594.0,285.0 595.0,286.9 596.0,289.6 597.0,291.7 598.0,295.0 599.0,295.7 600.0,297.8 601.0,299.1 602.0,300.9 603.0,305.0 604.0,306.6 605.0,307.8 606.0,309.9 607.0,310.9 608.0,315.1 609.0,315.6 610.0,316.8 611.0,319.7 612.0,322.9 613.0,325.2 614.0,327.8 615.0,329.8 616.0,331.5 617.0,333.5 618.0,333.7 619.0,336.6 620.0,338.6 621.0,340.0 622.0,341.1 623.0,342.2 624.0,343.3 625.0,344.1 626.0,346.4 627.0,349.2 628.0,350.7 629.0,350.8 630.0,351.8 631.0,353.3 632.0,354.9 633.0,356.4 634.0,358.2 635.1,359.7 636.1,359.0 637.1,360.5 638.1,362.3 639.1,363.9 640.1,365.6 641.1,367.3 642.2,367.2 643.2,368.9 644.2,369.8 645.2,371.0 646.2,372.3 647.2,373.6 648.2,374.0 649.2,374.3 650.3,375.8 651.3,376.5 652.3,376.2 653.3,377.6 654.3,378.1 655.3,378.6 656.3,379.4 657.3,380.5 658.3,379.5 659.3,380.3 660.3,380.0 661.3,381.4 662.3,382.2 663.3,381.6 664.3,383.2 665.4,383.6 666.4,383.7 667.4,384.0 668.4,384.6 669.4,385.1 670.4,385.6 671.4,386.6 672.4,386.8 673.4,386.6 674.4,387.9 675.4,388.9 676.4,389.1 677.4,388.6 678.4,388.0 679.4,388.7 680.4,389.3 681.4,389.5 682.4,389.3 683.4,390.5 684.4,390.8 685.4,390.1 686.4,390.3 687.5,390.6 688.5,391.4 689.5,391.9 690.5,391.1 691.5,392.6 692.5,392.7 693.5,392.0 694.5,393.3 695.5,393.5 696.5,393.3 697.5,393.2 698.5,392.9 699.5,393.5 700.5,393.3 701.5,393.8 702.5,394.3 703.5,393.9 704.5,393.9 705.5,394.6 706.5,395.0 707.5,395.1 708.5,394.9 709.5,395.6 710.5,395.8 711.5,395.2 712.5,395.3 713.5,394.7 714.5,395.2 715.5,395.2 716.5,395.7 717.5,395.4 718.5,395.0 719.5,396.1 720.5,396.0 721.5,396.8 722.5,396.8"/>
</g>
<path d="M74.5,16.5 V399.5" fill="none" stroke="#000" stroke-width="3.1"/>
<path d="M72.95,398.0 H724.0" fill="none" stroke="#000" stroke-width="3.0"/>
<path d="M70.3,17.6 H73.5 M71.9,41.4 H73.5 M71.9,65.2 H73.5 M71.9,89.0 H73.5 M70.3,112.8 H73.5 M71.9,136.5 H73.5 M71.9,160.3 H73.5 M71.9,184.1 H73.5 M70.3,207.9 H73.5 M71.9,231.7 H73.5 M71.9,255.5 H73.5 M71.9,279.3 H73.5 M70.3,303.1 H73.5 M71.9,326.9 H73.5 M71.9,350.7 H73.5 M71.9,374.4 H73.5 M70.3,398.2 H73.5" stroke="#0a0a3c" stroke-width="1.4" fill="none"/>
<path d="M75.0,399.5 v4.2 M123.8,399.5 v1.6 M152.3,399.5 v1.6 M172.5,399.5 v1.6 M188.2,399.5 v1.6 M201.1,399.5 v1.6 M211.9,399.5 v1.6 M221.3,399.5 v1.6 M229.6,399.5 v1.6 M237.0,399.5 v4.2 M285.8,399.5 v1.6 M314.3,399.5 v1.6 M334.5,399.5 v1.6 M350.2,399.5 v1.6 M363.1,399.5 v1.6 M373.9,399.5 v1.6 M383.3,399.5 v1.6 M391.6,399.5 v1.6 M399.0,399.5 v4.2 M447.8,399.5 v1.6 M476.3,399.5 v1.6 M496.5,399.5 v1.6 M512.2,399.5 v1.6 M525.1,399.5 v1.6 M535.9,399.5 v1.6 M545.3,399.5 v1.6 M553.6,399.5 v1.6 M561.0,399.5 v4.2 M609.8,399.5 v1.6 M638.3,399.5 v1.6 M658.5,399.5 v1.6 M674.2,399.5 v1.6 M687.1,399.5 v1.6 M697.9,399.5 v1.6 M707.3,399.5 v1.6 M715.6,399.5 v1.6 M723,399.5 v4.2" stroke="#2a2a50" stroke-width="1.1" fill="none"/>
<text class="nar tk" x="45.0" y="26.3" textLength="22.2" lengthAdjust="spacingAndGlyphs">50</text>
<text class="nar tk" x="45.0" y="121.3" textLength="22.2" lengthAdjust="spacingAndGlyphs">38</text>
<text class="nar tk" x="45.0" y="216.0" textLength="22.2" lengthAdjust="spacingAndGlyphs">25</text>
<text class="nar tk" x="45.0" y="311.4" textLength="22.2" lengthAdjust="spacingAndGlyphs">13</text>
<text class="nar tk" x="56.1" y="406.6" textLength="11.1" lengthAdjust="spacingAndGlyphs">0</text>
<text class="nar" x="58.5" y="441.3" textLength="21.8" lengthAdjust="spacingAndGlyphs">10</text>
<text x="81.5" y="424.2" font-size="15.5" textLength="6.3" lengthAdjust="spacingAndGlyphs">1</text>
<text class="nar" x="220.5" y="441.3" textLength="21.8" lengthAdjust="spacingAndGlyphs">10</text>
<text x="243.5" y="424.2" font-size="15.5" textLength="6.3" lengthAdjust="spacingAndGlyphs">2</text>
<text class="nar" x="382.5" y="441.3" textLength="21.8" lengthAdjust="spacingAndGlyphs">10</text>
<text x="405.5" y="424.2" font-size="15.5" textLength="6.3" lengthAdjust="spacingAndGlyphs">3</text>
<text class="nar" x="544.5" y="441.3" textLength="21.8" lengthAdjust="spacingAndGlyphs">10</text>
<text x="567.5" y="424.2" font-size="15.5" textLength="6.3" lengthAdjust="spacingAndGlyphs">4</text>
<text class="nar" x="706.5" y="441.3" textLength="21.8" lengthAdjust="spacingAndGlyphs">10</text>
<text x="729.5" y="424.2" font-size="15.5" textLength="6.3" lengthAdjust="spacingAndGlyphs">5</text>
<text class="nar" x="289.0" y="467.2" textLength="219.6" lengthAdjust="spacingAndGlyphs">DCFDA fluorescence</text>
<text class="wide" font-size="19.8" transform="translate(32.9,243.6) rotate(-90)" textLength="74.5" lengthAdjust="spacingAndGlyphs">Count</text>
<rect x="562" y="17" width="159.3" height="147.5" fill="#fff" stroke="#000" stroke-width="1.8"/>
<path d="M568.4,35.2 H587.5" stroke="#000000" stroke-width="3.4" stroke-linecap="round"/>
<text class="nar" x="592.2" y="44.1" textLength="94.5" lengthAdjust="spacingAndGlyphs">Untreated</text>
<path d="M568.4,63.3 H587.5" stroke="#e2942a" stroke-width="3.4" stroke-linecap="round"/>
<text class="nar" x="593.6" y="71.5" textLength="100.5" lengthAdjust="spacingAndGlyphs">1% ChitGP</text>
<path d="M568.4,91.4 H587.5" stroke="#1f00f5" stroke-width="3.4" stroke-linecap="round"/>
<text class="nar" x="592.2" y="99.6" textLength="102.6" lengthAdjust="spacingAndGlyphs">2% ChitGP</text>
<path d="M568.4,119.5 H587.5" stroke="#520a68" stroke-width="3.4" stroke-linecap="round"/>
<text class="nar" x="593.6" y="127.7" textLength="122.6" lengthAdjust="spacingAndGlyphs">1% AgNP-GP</text>
<path d="M568.4,147.6 H587.5" stroke="#316a12" stroke-width="3.4" stroke-linecap="round"/>
<text class="nar" x="592.2" y="155.8" textLength="123.4" lengthAdjust="spacingAndGlyphs">2% AgNP-GP</text>
<text class="lab" transform="translate(-0.3,478) scale(0.92,1)">A.</text>
</g>
<g id="panelB">
<rect x="908.5" y="323.1" width="69.1" height="28.3" fill="#8e8e90" stroke="#000" stroke-width="2.2"/>
<path d="M926.0,320.2 h34 M926.0,325.0 h34 M943.0,320.2 V325.0" stroke="#000" stroke-width="2.6" fill="none"/>
<path d="M943.0,351.4 v3.8" stroke="#000" stroke-width="2"/>
<rect x="1013.1" y="270.5" width="69.1" height="80.9" fill="#d9a86c" stroke="#000" stroke-width="2.2"/>
<path d="M1030.7,264.7 h34 M1030.7,275.8 h34 M1047.7,264.7 V275.8" stroke="#000" stroke-width="2.6" fill="none"/>
<path d="M1047.7,351.4 v3.8" stroke="#000" stroke-width="2"/>
<text class="wide" x="1049.2" y="259.0" font-size="16.6" text-anchor="middle" letter-spacing="2.0" stroke="#000" stroke-width="0.45">*</text>
<rect x="1117.5" y="262.2" width="69.0" height="89.2" fill="#2a00f2" stroke="#000" stroke-width="2.2"/>
<path d="M1135.0,253.5 h34 M1135.0,270.6 h34 M1152.0,253.5 V270.6" stroke="#000" stroke-width="2.6" fill="none"/>
<path d="M1152.0,351.4 v3.8" stroke="#000" stroke-width="2"/>
<text class="wide" x="1153.6" y="246.6" font-size="16.6" text-anchor="middle" letter-spacing="2.0" stroke="#000" stroke-width="0.45">*</text>
<rect x="1221.9" y="192.6" width="68.8" height="158.8" fill="#3b6b12" stroke="#000" stroke-width="2.2"/>
<path d="M1239.3,173.0 h34 M1239.3,211.2 h34 M1256.3,173.0 V211.2" stroke="#000" stroke-width="2.6" fill="none"/>
<path d="M1256.3,351.4 v3.8" stroke="#000" stroke-width="2"/>
<text class="wide" x="1259.6" y="171.2" font-size="16.6" text-anchor="middle" letter-spacing="2.0" stroke="#000" stroke-width="0.45">***</text>
<rect x="1326.5" y="138.2" width="68.6" height="213.2" fill="#cc1a1e" stroke="#000" stroke-width="2.2"/>
<path d="M1343.8,86.6 h34 M1343.8,188.7 h34 M1360.8,86.6 V188.7" stroke="#000" stroke-width="2.6" fill="none"/>
<path d="M1360.8,351.4 v3.8" stroke="#000" stroke-width="2"/>
<text class="wide" x="1363.4" y="82.8" font-size="16.6" text-anchor="middle" letter-spacing="2.0" stroke="#000" stroke-width="0.45">****</text>
<path d="M890.4,29.5 V351.4 H1414.5" fill="none" stroke="#000" stroke-width="2.4" stroke-linecap="butt"/>
<path d="M890.4,351.4 h-4" stroke="#000" stroke-width="2"/>
<path d="M886.1999999999999,30.4 H890.4" stroke="#000" stroke-width="2"/>
<text class="b" style="font-size:22.7px" transform="translate(883.0,37.8) scale(1.05,1)" text-anchor="end">1500</text>
<path d="M886.1999999999999,137.3 H890.4" stroke="#000" stroke-width="2"/>
<text class="b" style="font-size:22.7px" transform="translate(883.0,144.7) scale(1.05,1)" text-anchor="end">1000</text>
<path d="M886.1999999999999,244.3 H890.4" stroke="#000" stroke-width="2"/>
<text class="b" style="font-size:22.7px" transform="translate(883.0,251.7) scale(1.05,1)" text-anchor="end">500</text>
<path d="M886.1999999999999,351.4 H890.4" stroke="#000" stroke-width="2"/>
<text class="b" style="font-size:22.7px" transform="translate(883.0,358.8) scale(1.05,1)" text-anchor="end">0</text>
<text class="b" style="font-size:21.1px;stroke-width:0.15px" transform="translate(815.7,344.6) rotate(-90) scale(1,1.08)" textLength="323.5" lengthAdjust="spacingAndGlyphs">Mean fluorescent intensity (MFI)</text>
<text class="b" style="font-size:24.4px;stroke-width:0.1px" transform="translate(948.50,373.00) scale(1.08,1) rotate(-45)" text-anchor="end">Control</text>
<text class="b" style="font-size:24.4px;stroke-width:0.1px" transform="translate(1049.75,372.80) scale(1.08,1) rotate(-45)" y="3.0" text-anchor="end">1% Chit<tspan dx="-4.8" dy="-3.0">GP</tspan></text>
<text class="b" style="font-size:24.4px;stroke-width:0.1px" transform="translate(1156.40,374.80) scale(1.08,1) rotate(-45)" y="-0.6" text-anchor="end">2% Chit<tspan dx="-3.7" dy="0.6">GP</tspan></text>
<text class="b" style="font-size:24.4px;stroke-width:0.1px" transform="translate(1263.20,370.00) scale(1.08,1) rotate(-45)" text-anchor="end">1% AgNP-GP</text>
<text class="b" style="font-size:24.4px;stroke-width:0.1px" transform="translate(1368.20,370.00) scale(1.08,1) rotate(-45)" text-anchor="end">2% AgNP-GP</text>
<text class="lab" transform="translate(786,478) scale(0.92,1)">B.</text>
</g>
</svg></body></html>
